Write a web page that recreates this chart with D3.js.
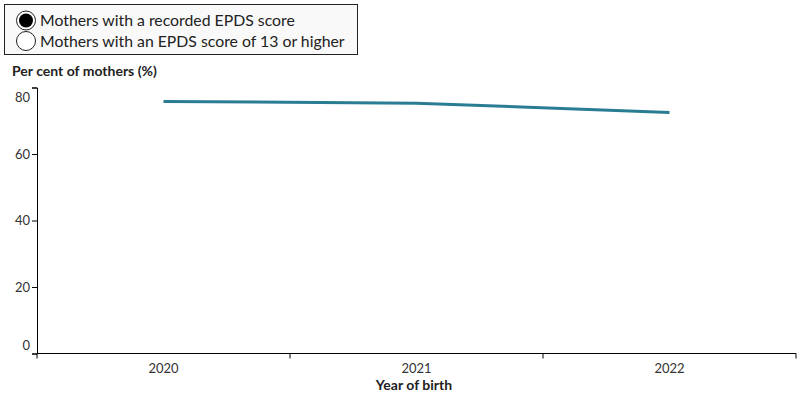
<!DOCTYPE html>
<html>
<head>
<meta charset="utf-8">
<script src="https://cdn.jsdelivr.net/npm/d3@7"></script>
<style>
  html, body { margin: 0; padding: 0; background: #fff; }
  svg { display: block; font-family: Lato, "Noto Sans", sans-serif; }
</style>
</head>
<body>
<svg id="chart" width="800" height="400"></svg>
<script>
const years = ["2020", "2021", "2022"];
const recordedEPDS = [75.8, 75.3, 72.5];
const yTicks = [0, 20, 40, 60, 80];
const legendItems = ["Mothers with a recorded EPDS score", "Mothers with an EPDS score of 13 or higher"];
const selectedIndex = 0;

(function () {
const svg = d3.select("#chart");
const mLeft = 37, mRight = 796, mTop = 87.5, mBottom = 353.5;

const x = d3.scaleBand().domain(years).range([mLeft, mRight]).padding(0);
const y = d3.scaleLinear().domain([0, 80]).range([mBottom, mTop]);

// Legend
const lg = svg.append("g");
lg.append("rect").attr("x", 4.5).attr("y", 4.5).attr("width", 353).attr("height", 50)
  .attr("fill", "#f9f9f9").attr("stroke", "#222").attr("stroke-width", 1);
legendItems.forEach((t, i) => {
  const cy = 20.5 + i * 20.5;
  lg.append("circle").attr("cx", 26).attr("cy", cy).attr("r", 9.5)
    .attr("fill", "#fff").attr("stroke", "#222").attr("stroke-width", 1);
  if (i === selectedIndex) {
    lg.append("circle").attr("cx", 26).attr("cy", cy).attr("r", 7).attr("fill", "#000");
  }
  lg.append("text").attr("x", 40).attr("y", cy).attr("dy", "0.36em")
    .attr("font-size", 15.8).attr("fill", "#222").text(t);
});

// Y axis title
svg.append("text").attr("x", 12).attr("y", 76).attr("font-size", 14)
  .attr("font-weight", "bold").attr("fill", "#222").text("Per cent of mothers (%)");

// Y axis
const yAxis = svg.append("g").attr("transform", `translate(${mLeft},0)`)
  .call(d3.axisLeft(y).tickValues(yTicks).tickSize(5).tickSizeOuter(5));
yAxis.selectAll("path, line").attr("stroke", "#000");
yAxis.selectAll("text").attr("font-size", 13).attr("fill", "#333").attr("x", -7)
  .attr("font-family", "Lato, sans-serif")
  .attr("dy", d => d === 80 ? "1.05em" : d === 0 ? "-0.3em" : "0.32em");

// X axis
const xAxis = svg.append("g").attr("transform", `translate(0,${mBottom})`);
xAxis.append("line").attr("x1", mLeft).attr("x2", mRight).attr("stroke", "#000");
const bounds = years.map(d => x(d)).concat([x(years[years.length - 1]) + x.bandwidth()]);
xAxis.selectAll("line.tick").data(bounds).join("line").attr("class", "tick")
  .attr("x1", d => d).attr("x2", d => d).attr("y1", 0).attr("y2", 5).attr("stroke", "#000");
xAxis.selectAll("text").data(years).join("text")
  .attr("x", d => x(d) + x.bandwidth() / 2).attr("y", 19)
  .attr("text-anchor", "middle").attr("font-size", 13).attr("fill", "#333").text(d => d);

svg.append("text").attr("x", 414).attr("y", 390).attr("text-anchor", "middle")
  .attr("font-size", 14).attr("font-weight", "bold").attr("fill", "#222").text("Year of birth");

// Line
const line = d3.line().x((d, i) => x(years[i]) + x.bandwidth() / 2).y(d => y(d));
svg.append("path").datum(recordedEPDS).attr("d", line).attr("fill", "none")
  .attr("stroke", "#2a7c93").attr("stroke-width", 3).attr("stroke-linecap", "butt");
})();
</script>
</body>
</html>
